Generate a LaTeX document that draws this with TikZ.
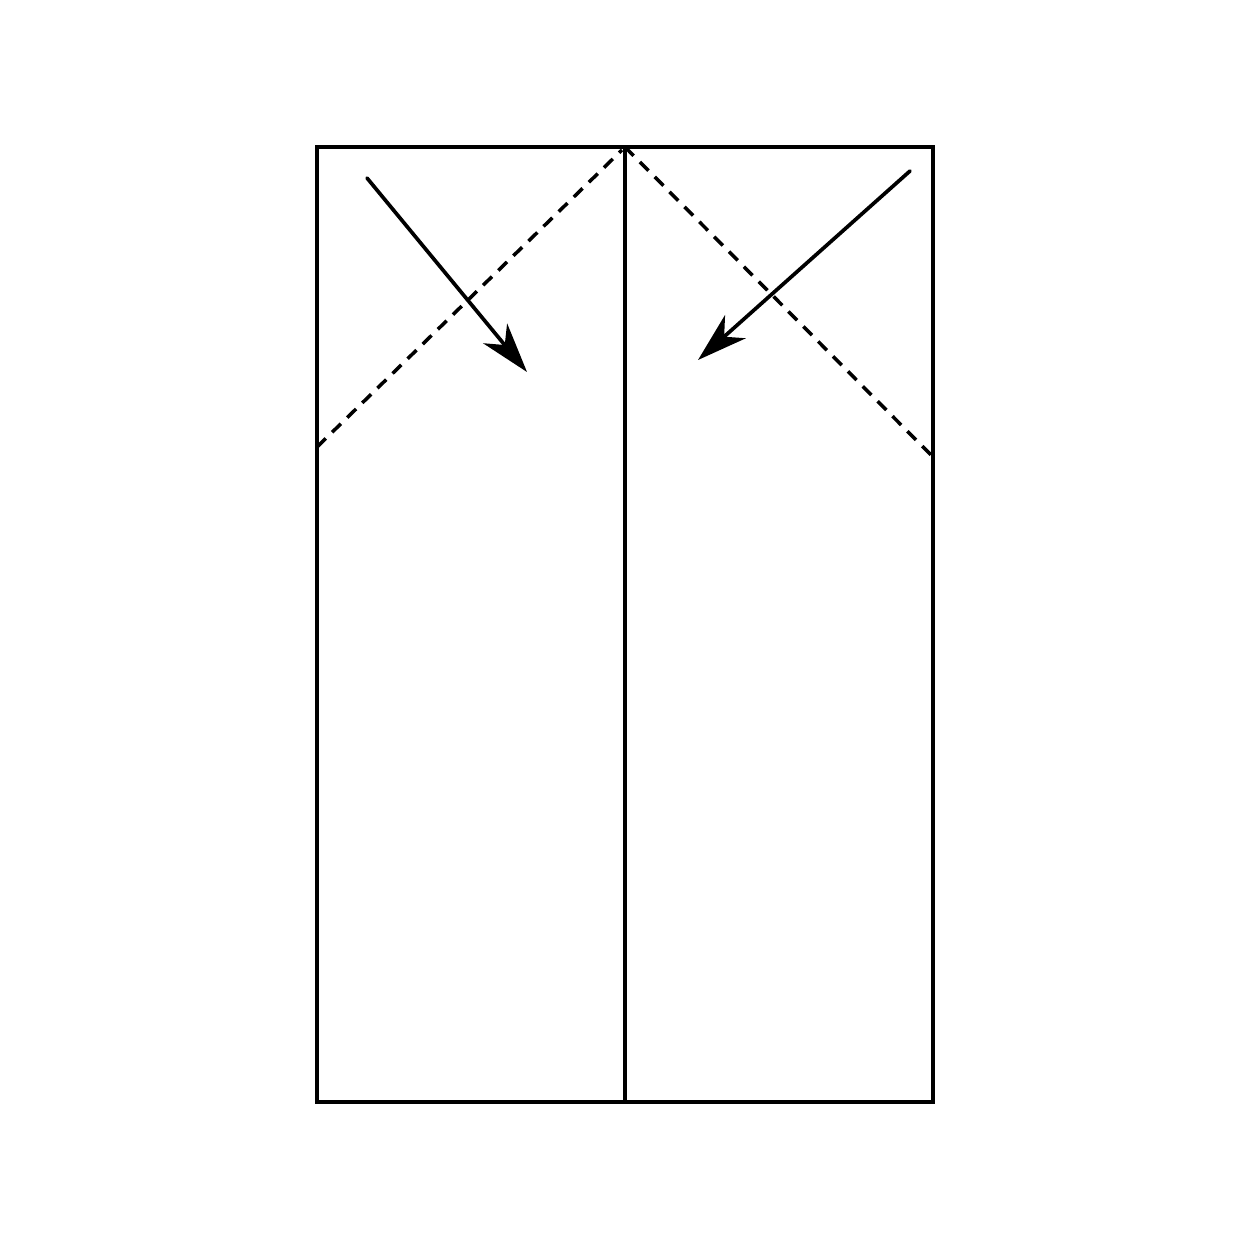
\documentclass[tikz,border=0pt]{standalone}
\usetikzlibrary{arrows.meta}
\begin{document}
\begin{tikzpicture}[x=0.02cm,y=-0.02cm,
  edge/.style={line width=2.1pt,line cap=round,line join=miter},
  fold/.style={line width=2pt,dash pattern=on 7pt off 5pt},
  move/.style={line width=2.1pt,line cap=round,-{Stealth[length=1cm,width=0.62cm,inset=0.3cm]}}]
\useasboundingbox (0,0) rectangle (1250,1250);
\coordinate (tl) at (317,147);
\coordinate (tr) at (933,147);
\coordinate (bl) at (317,1102);
\coordinate (br) at (933,1102);
\coordinate (tm) at (625,147);
\coordinate (bm) at (625,1102);
\coordinate (ld) at (317,447);
\coordinate (rd) at (933,457);
\draw[fold] (ld) -- (622,150);
\draw[fold] (tm) -- (rd);
\draw[edge] (tl) -- (tr) -- (br) -- (bl) -- cycle;
\draw[edge] (tm) -- (bm);
\coordinate (a1s) at (367,178);
\coordinate (a1e) at (527,372);
\coordinate (a2s) at (910,171);
\coordinate (a2e) at (698,360);
\draw[move] (a1s) -- (a1e);
\draw[move] (a2s) -- (a2e);
\end{tikzpicture}
\end{document}
